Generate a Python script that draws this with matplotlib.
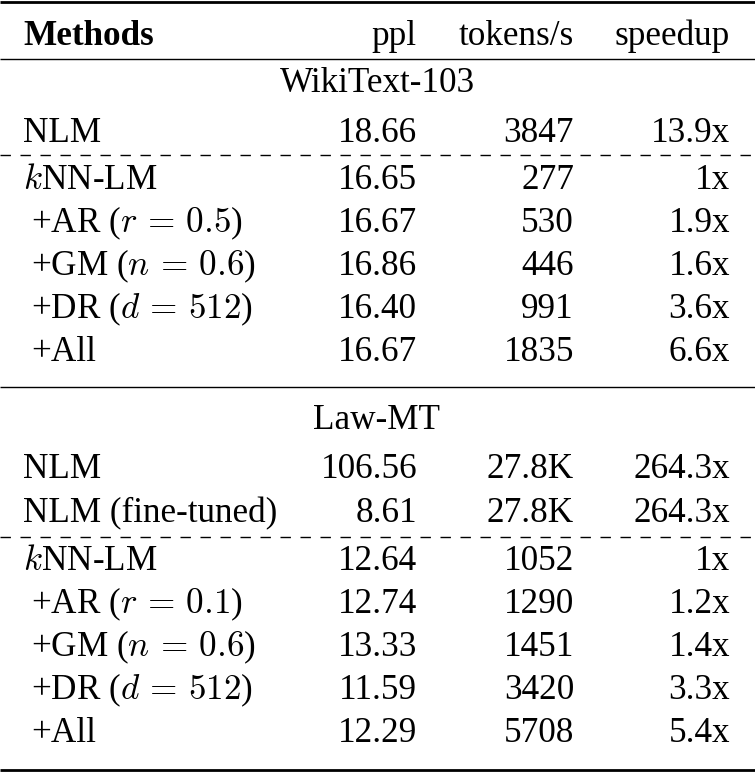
import matplotlib.pyplot as plt

plt.rcParams['font.family'] = ['Liberation Serif', 'DejaVu Serif']
plt.rcParams['mathtext.fontset'] = 'cm'
plt.rcParams['lines.scale_dashes'] = False

# table content
header = ['Methods', 'ppl', 'tokens/s', 'speedup']

wiki_title = 'WikiText-103'
wiki_methods = ['NLM', '$k$NN-LM', r'+AR ($r\,=\,0.5$)', r'+GM ($n\,=\,0.6$)',
                r'+DR ($d\,=\,512$)', '+All']
wiki_ppl = ['18.66', '16.65', '16.67', '16.86', '16.40', '16.67']
wiki_tokens = ['3847', '277', '530', '446', '991', '1835']
wiki_speedup = ['13.9x', '1x', '1.9x', '1.6x', '3.6x', '6.6x']

law_title = 'Law-MT'
law_methods = ['NLM', 'NLM (fine-tuned)', '$k$NN-LM', r'+AR ($r\,=\,0.1$)',
               r'+GM ($n\,=\,0.6$)', r'+DR ($d\,=\,512$)', '+All']
law_ppl = ['106.56', '8.61', '12.64', '12.74', '13.33', '11.59', '12.29']
law_tokens = ['27.8K', '27.8K', '1052', '1290', '1451', '3420', '5708']
law_speedup = ['264.3x', '264.3x', '1x', '1.2x', '1.4x', '3.3x', '5.4x']

W, H = 755, 774
FS = 25.3
CAP = 11.3          # half cap height in px
STEP = 43           # row pitch in px
X_LEFT = 23
X_INDENT = 31
X_COLS = [417, 574, 730]
X_MID = 377

fig = plt.figure(figsize=(W / 100, H / 100), dpi=100)
ax = fig.add_axes([0, 0, 1, 1])
ax.set_xlim(0, W)
ax.set_ylim(H, 0)
ax.axis('off')


def put(x, y, s, ha='left', **kw):
    ax.text(x, y + CAP, s, ha=ha, va='baseline', fontsize=FS, **kw)


def rule(y, lw, dashed=False):
    if dashed:
        ax.plot([0, W], [y, y], color='black', lw=lw, dashes=(7.5, 6.9), dash_capstyle='butt')
    else:
        ax.plot([0, W], [y, y], color='black', lw=lw, solid_capstyle='butt')


def block(methods, ppl, tokens, speedup, ys):
    for m, p, t, s, y in zip(methods, ppl, tokens, speedup, ys):
        put(X_INDENT if m.startswith('+') else X_LEFT, y, m)
        for x, v in zip(X_COLS, (p, t, s)):
            put(x, y, v, ha='right')


# header
rule(1.5, 2.0)
put(X_LEFT, 34, header[0], fontweight='bold')
for x, h in zip(X_COLS, header[1:]):
    put(x, 34, h, ha='right')
rule(59, 1.0)

# WikiText-103 block
put(X_MID, 81, wiki_title, ha='center')
ys_wiki = [131] + [178 + STEP * i for i in range(len(wiki_methods) - 1)]
block(wiki_methods, wiki_ppl, wiki_tokens, wiki_speedup, ys_wiki)
rule(155, 1.0, dashed=True)
rule(387, 1.0)

# Law-MT block
put(X_MID, 418, law_title, ha='center')
ys_law = [467, 467 + 44] + [559 + STEP * i for i in range(len(law_methods) - 2)]
block(law_methods, law_ppl, law_tokens, law_speedup, ys_law)
rule(537, 1.0, dashed=True)
rule(769.5, 2.0)

fig.savefig('out.png', dpi=100)
